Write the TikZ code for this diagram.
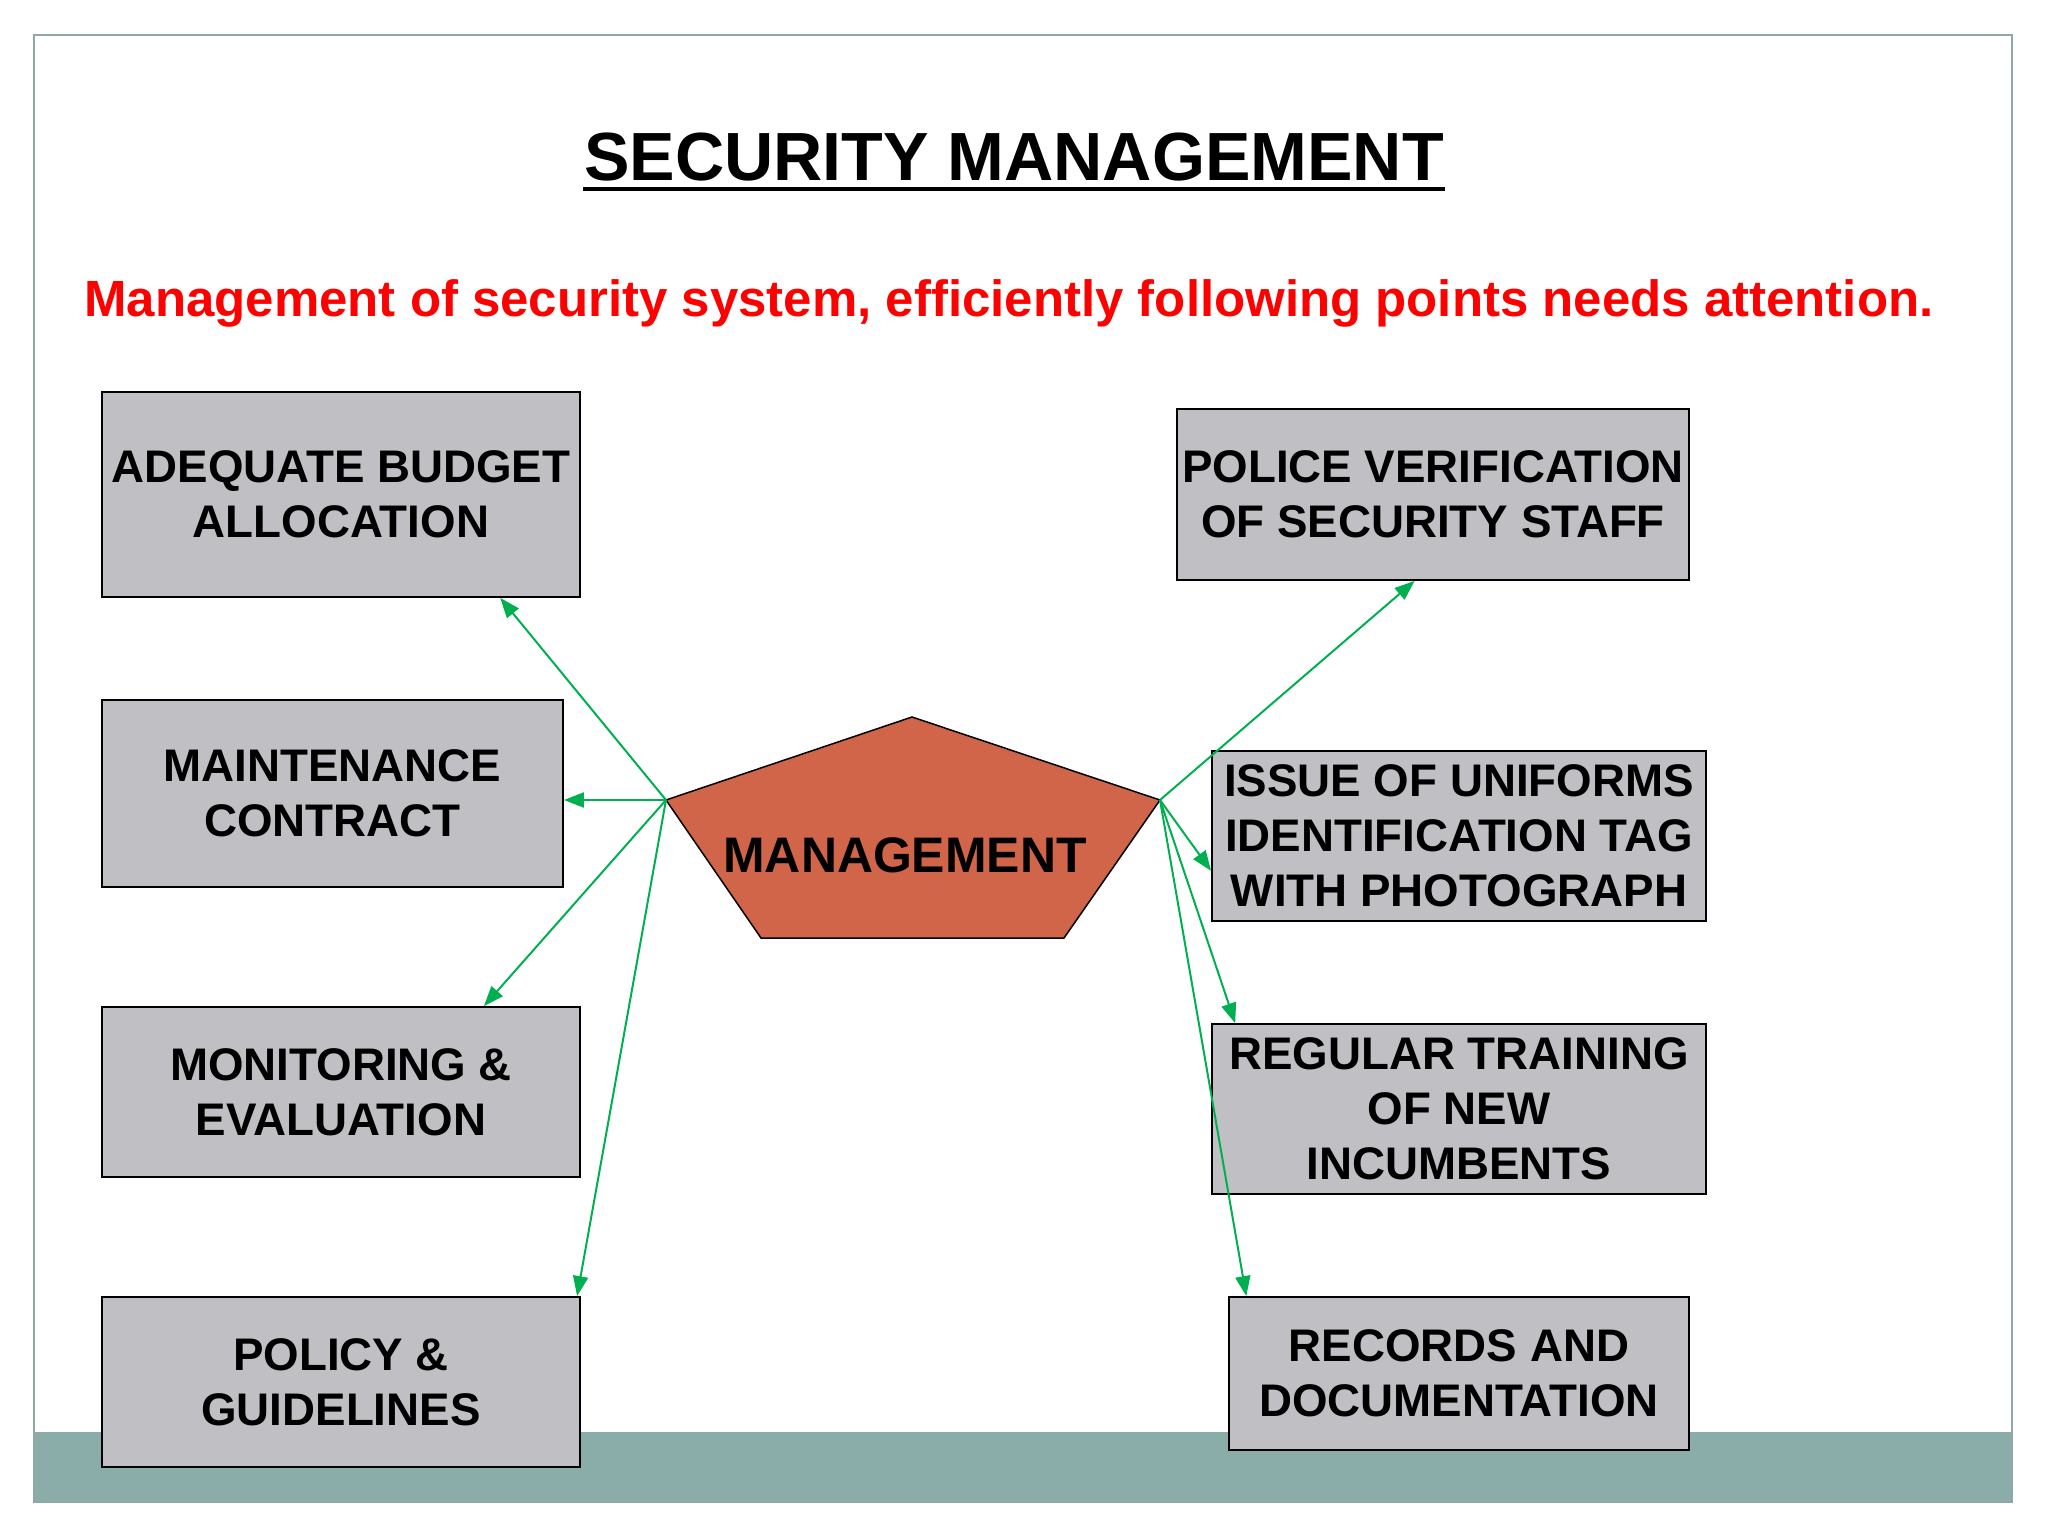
\documentclass[tikz,border=0pt]{standalone}
\usepackage{fontspec}
\setmainfont{Liberation Sans}
\usetikzlibrary{positioning}
\usetikzlibrary{shapes.geometric, arrows.meta}
\definecolor{boxgray}{RGB}{192,191,196}
\definecolor{pentred}{RGB}{209,101,74}
\definecolor{linkgreen}{RGB}{0,176,80}
\definecolor{bandteal}{RGB}{139,173,170}
\definecolor{framegray}{RGB}{143,168,166}

\begin{document}
\begin{tikzpicture}
    \tikzset{base/.style = {rectangle, draw=black, line width=0.018cm, fill=boxgray,
                           inner sep=0pt, align=center,
                           font=\fontsize{13}{15.7}\selectfont\bfseries}}
    \tikzset{link/.style = {draw=linkgreen, line width=0.02cm,
                           -{Triangle[length=0.2cm, width=0.15cm]}}}

    \useasboundingbox (0,0) rectangle (20.48,-15.36);
    \fill[white] (0,0) rectangle (20.48,-15.36);
    \fill[bandteal] (0.34,-14.32) rectangle (20.12,-15.02);
    \draw[framegray, line width=0.02cm] (0.34,-0.35) rectangle (20.12,-15.02);

    \node (title) [anchor=base, inner sep=0pt, font=\fontsize{19.4}{23}\selectfont\bfseries] at (10.14,-1.81) {SECURITY MANAGEMENT};
    \draw[line width=0.04cm] ([yshift=-0.08cm]title.base west) -- ([yshift=-0.08cm]title.base east);
    \node (intro) [anchor=base, inner sep=0pt, text=red, font=\fontsize{14.5}{17}\selectfont\bfseries] at (10.09,-3.17) {Management of security system, efficiently following points needs attention.};

    \node (budget) [base, minimum width=4.78cm, minimum height=2.05cm] at (3.41,-4.945) {ADEQUATE BUDGET\\ALLOCATION};
    \node (maint) [base, minimum width=4.61cm, minimum height=1.87cm] at (3.325,-7.935) {MAINTENANCE\\CONTRACT};
    \node (monit) [base, minimum width=4.78cm, minimum height=1.70cm] at (3.41,-10.92) {MONITORING \&\\EVALUATION};
    \node (policy) [base, minimum width=4.78cm, minimum height=1.70cm] at (3.41,-13.82) {POLICY \&\\GUIDELINES};

    \node (police) [base, minimum width=5.12cm, minimum height=1.71cm] at (14.33,-4.945) {POLICE VERIFICATION\\OF SECURITY STAFF};
    \node (issue) [base, minimum width=4.94cm, minimum height=1.70cm] at (14.59,-8.36) {ISSUE OF UNIFORMS\\IDENTIFICATION TAG\\WITH PHOTOGRAPH};
    \node (regular) [base, minimum width=4.94cm, minimum height=1.70cm] at (14.59,-11.09) {REGULAR TRAINING\\OF NEW\\INCUMBENTS};
    \node (records) [base, minimum width=4.60cm, minimum height=1.53cm] at (14.59,-13.735) {RECORDS AND\\DOCUMENTATION};

    % pentagon
    \coordinate (ptop) at (9.12,-7.17);
    \coordinate (lv) at (6.66,-8.00);
    \coordinate (rv) at (11.60,-8.00);
    \coordinate (pbl) at (7.61,-9.38);
    \coordinate (pbr) at (10.64,-9.38);
    \draw[fill=pentred, line width=0.015cm] (lv) -- (ptop) -- (rv) -- (pbr) -- (pbl) -- cycle;
    \node (mgmt) [inner sep=0pt, font=\fontsize{14.2}{17}\selectfont\bfseries] at (9.05,-8.55) {MANAGEMENT};

    \draw[link] (lv) -- (budget.-33.5);
    \draw[link] (lv) -- (lv -| maint.east);
    \draw[link] (lv) -- (monit.31.1);
    \draw[link] (lv) -- (policy.20.9);

    \draw[link] (rv) -- (police.-102.5);
    \draw[link] (rv) -- (issue.-172.6);
    \draw[link] (rv) -- (regular.159.8);
    \draw[link] (rv) -- (records.160.3);

\end{tikzpicture}
\end{document}
